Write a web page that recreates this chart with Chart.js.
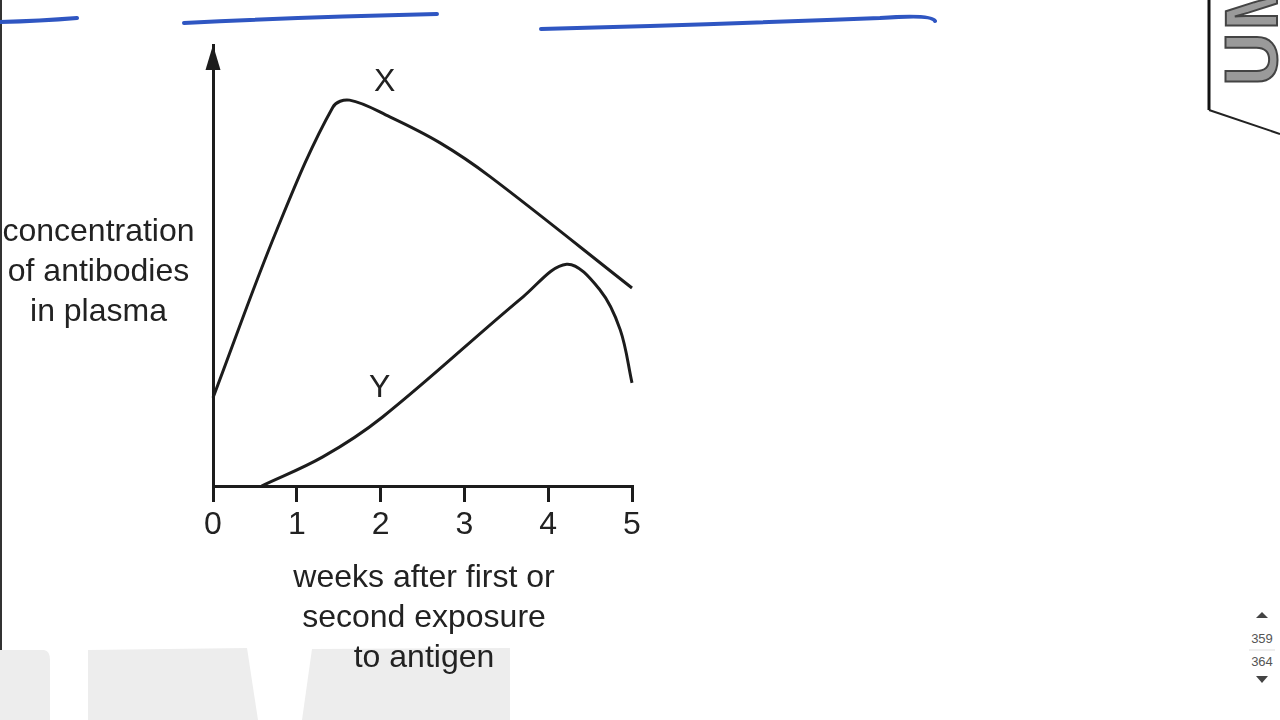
<!DOCTYPE html>
<html>
<head>
<meta charset="utf-8">
<script src="https://cdn.jsdelivr.net/npm/chart.js@4.4.1/dist/chart.umd.min.js"></script>
<style>
  html, body { margin: 0; padding: 0; background: #ffffff; }
  #stage { position: relative; width: 1280px; height: 720px; overflow: hidden; background: #ffffff;
           font-family: "Liberation Sans", Arial, Helvetica, sans-serif; color: #222; }
  #deco { position: absolute; left: 0; top: 0; }
  #chart { position: absolute; left: 0; top: 0; }
  .title { position: absolute; font-size: 32px; line-height: 40px; text-align: center; color: #222; white-space: nowrap; }
  #ytitle { left: 0; top: 210px; width: 197px; }
  #xtitle { left: 224px; top: 556px; width: 400px; }
  .pg { position: absolute; font-size: 13px; color: #555; width: 40px; text-align: center; left: 1242px; }
  #logo { position: absolute; left: 1215px; top: 86px; transform: rotate(-90deg); transform-origin: left top;
          font: bold 74px "Liberation Sans", Arial, sans-serif; line-height: 74px; color: #9a9a9a; -webkit-text-stroke: 2px #444; letter-spacing: 2px; }
</style>
</head>
<body>
<div id="stage">
  <svg id="deco" width="1280" height="720">
    <rect x="0" y="0" width="2" height="720" fill="#333"/>
    <path d="M0,650 L44,650 Q50,651 50,660 L50,720 L0,720 Z" fill="#ededed"/>
    <path d="M88,650 L247,648 L258,720 L88,720 Z" fill="#ededed"/>
    <path d="M312,649 L510,648 L510,720 L302,720 Z" fill="#ededed"/>
    <g fill="none" stroke="#2f56c2" stroke-width="4" stroke-linecap="round">
      <path d="M0,22 Q40,21 77,18"/>
      <path d="M184,23 Q300,17 437,14"/>
      <path d="M541,29 Q700,25 880,18 Q932,14 935,21"/>
    </g>
    <line x1="1209" y1="0" x2="1209" y2="110" stroke="#111" stroke-width="3"/>
    <line x1="1209" y1="110" x2="1280" y2="134" stroke="#222" stroke-width="2"/>
    <path d="M1256,618 L1262,612 L1268,618 Z" fill="#444"/>
    <line x1="1249" y1="650" x2="1275" y2="650" stroke="#ddd" stroke-width="1"/>
    <path d="M1256,676 L1268,676 L1262,683 Z" fill="#444"/>
  </svg>
  <div id="logo">UM</div>
  <div class="pg" style="top:631px">359</div>
  <div class="pg" style="top:654px">364</div>
  <canvas id="chart" width="1280" height="720"></canvas>
  <div id="ytitle" class="title">concentration<br>of antibodies<br>in plasma</div>
  <div id="xtitle" class="title">weeks after first or<br>second exposure<br>to antigen</div>
</div>
<script>
// ---- data (weeks, concentration in arbitrary units 0-10) ----
const weekTicks = [0, 1, 2, 3, 4, 5];

const xWeeks = [0, 0.76, 1.43, 1.63, 2.11, 2.71, 3.31, 5.0];
const xConc  = [2.0, 5.8, 8.59, 8.75, 8.37, 7.78, 7.01, 4.49];

const yWeeks = [0.58, 1.31, 2.02, 3.7, 4.22, 4.62, 4.86, 5.0];
const yConc  = [0, 0.66, 1.56, 4.29, 5.03, 4.44, 3.54, 2.34];

const curveNames   = ['X', 'Y'];
const labelWeeks   = [2.05, 1.99];
const labelConc    = [9.21, 2.29];

const INK = '#1c1c1c';

const toPoints = (xs, ys) => xs.map((w, i) => ({ x: w, y: ys[i] }));

const overlay = {
  id: 'overlay',
  afterDatasetsDraw(chart) {
    const { ctx, chartArea, scales: { x, y } } = chart;
    const ax = x.getPixelForValue(0);
    const top = chartArea.top;
    ctx.save();
    ctx.fillStyle = INK;
    ctx.beginPath();
    ctx.moveTo(ax, top);
    ctx.lineTo(ax - 7.5, top + 25);
    ctx.lineTo(ax + 7.5, top + 25);
    ctx.closePath();
    ctx.fill();
    ctx.fillStyle = '#222';
    ctx.font = '32px "Liberation Sans", Arial, sans-serif';
    ctx.textAlign = 'center';
    ctx.textBaseline = 'alphabetic';
    curveNames.forEach((n, i) => {
      ctx.fillText(n, x.getPixelForValue(labelWeeks[i]), y.getPixelForValue(labelConc[i]) + 11.5);
    });
    ctx.restore();
  }
};

new Chart(document.getElementById('chart'), {
  type: 'line',
  data: {
    datasets: [
      { label: 'X', data: toPoints(xWeeks, xConc), borderColor: INK, borderWidth: 3,
        pointRadius: 0, tension: 0.35, fill: false, clip: false },
      { label: 'Y', data: toPoints(yWeeks, yConc), borderColor: INK, borderWidth: 3,
        pointRadius: 0, tension: 0.35, fill: false, clip: false }
    ]
  },
  options: {
    responsive: false,
    animation: false,
    devicePixelRatio: 1,
    layout: { padding: { left: 0, top: 45, right: 648, bottom: 0 } },
    plugins: { legend: { display: false }, tooltip: { enabled: false }, title: { display: false } },
    scales: {
      x: {
        type: 'linear', min: 0, max: 5,
        afterFit(s) { s.height = 234; },
        afterBuildTicks(s) { s.ticks = weekTicks.map(v => ({ value: v })); },
        grid: { display: true, drawOnChartArea: false, drawTicks: true, tickLength: 16, color: INK, lineWidth: 3 },
        border: { display: true, color: INK, width: 3 },
        ticks: { color: '#222', padding: 4, font: { size: 32, family: '"Liberation Sans", Arial, sans-serif' },
                 maxRotation: 0, autoSkip: false }
      },
      y: {
        type: 'linear', min: 0, max: 10,
        afterFit(s) { s.width = 213; },
        grid: { display: false },
        border: { display: true, color: INK, width: 3 },
        ticks: { display: false }
      }
    }
  },
  plugins: [overlay]
});
</script>
</body>
</html>
